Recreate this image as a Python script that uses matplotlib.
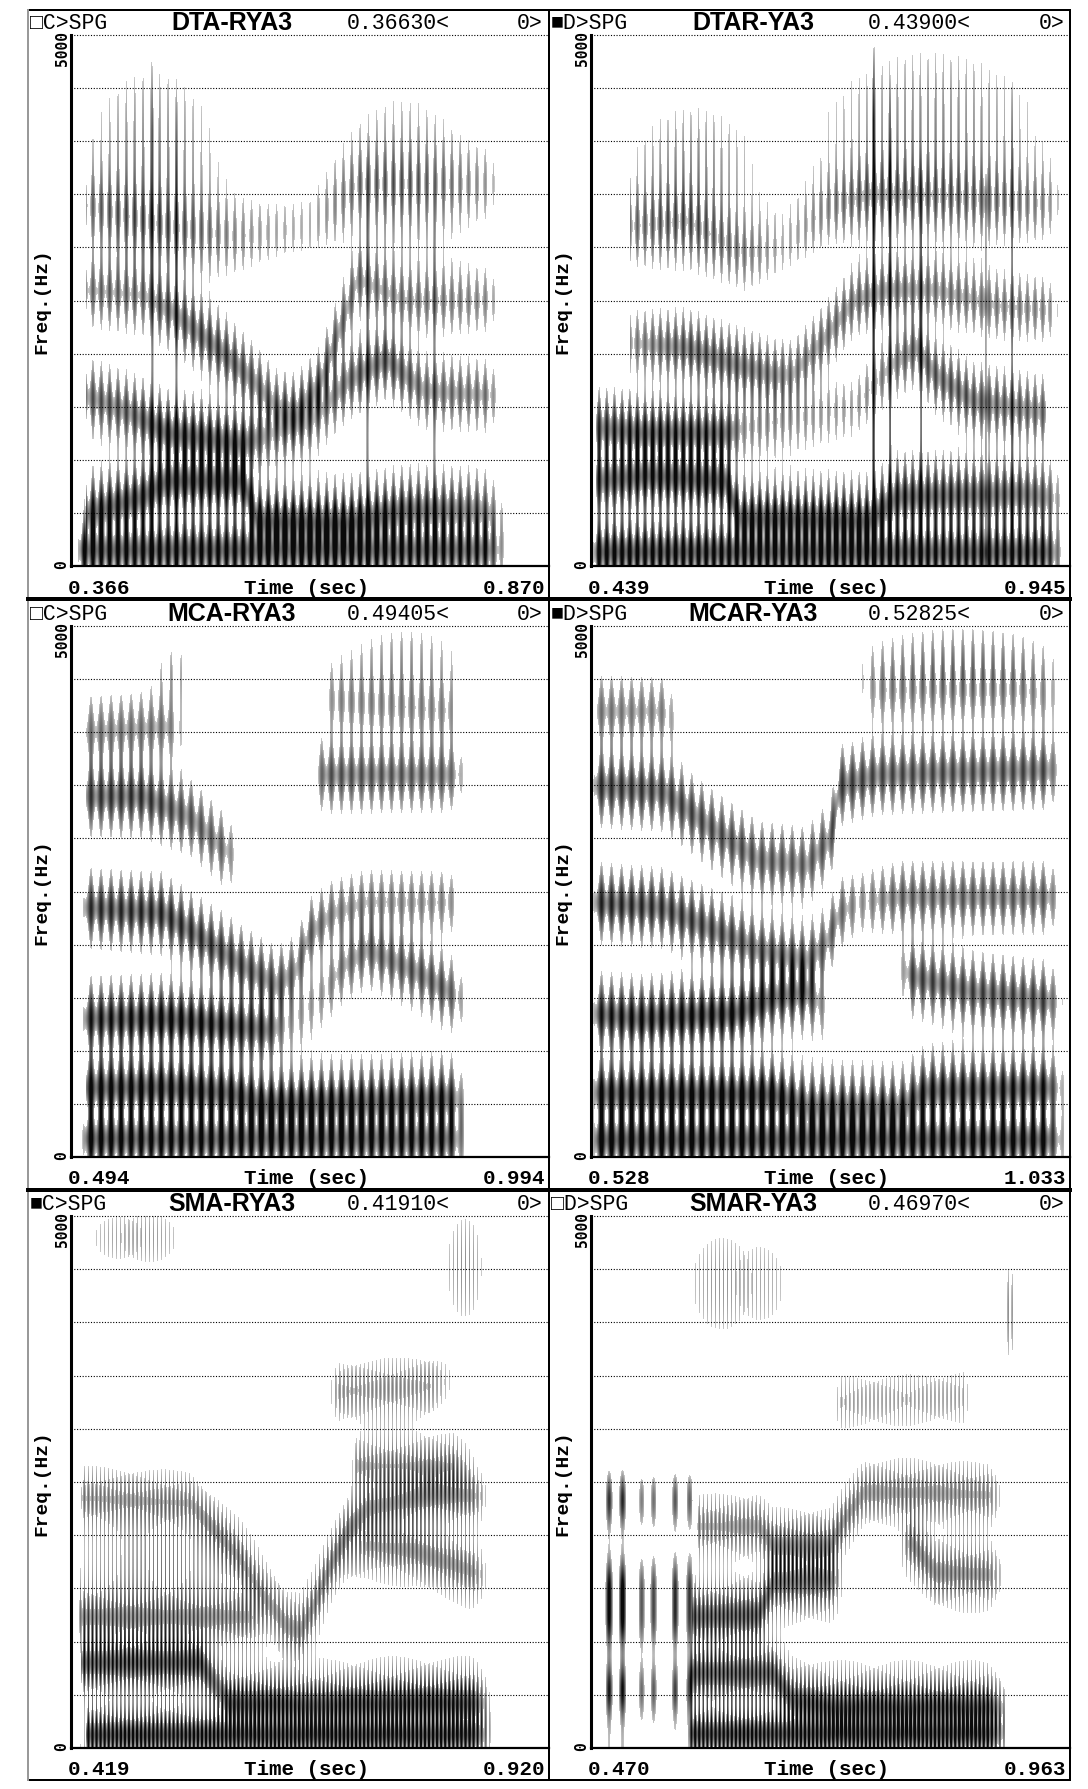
import numpy as np
import matplotlib
matplotlib.use("Agg")
import matplotlib.pyplot as plt
from matplotlib.colors import ListedColormap

# Titulos y rangos de cada panel (fila por fila, izquierda -> derecha)
names = ["DTA-RYA3", "DTAR-YA3", "MCA-RYA3", "MCAR-YA3", "SMA-RYA3", "SMAR-YA3"]
channels = ["□C>SPG", "■D>SPG", "□C>SPG", "■D>SPG", "■C>SPG", "□D>SPG"]
cursor_labels = ["0.36630<", "0.43900<", "0.49405<", "0.52825<", "0.41910<", "0.46970<"]
t_starts = [0.366, 0.439, 0.494, 0.528, 0.419, 0.470]
t_ends = [0.870, 0.945, 0.994, 1.033, 0.920, 0.963]
freq_grid = [500, 1000, 1500, 2000, 2500, 3000, 3500, 4000, 4500, 5000]

# periodo glotal (fraccion del panel) y tramo sonoro
pulse_periods = [0.0175, 0.016, 0.021, 0.021, 0.0085, 0.0085]
voicing = [(0.01, 0.92), (0.0, 1.0), (0.02, 0.84), (0.0, 1.0), (0.01, 0.89), (0.2, 0.88)]

dta_bar = [(0.01, 150, 0.85), (0.6, 150, 0.85), (0.92, 150, 0.7)]
dta_f1 = [(0.03, 480, 0.85), (0.15, 650, 0.9), (0.2, 800, 1.0), (0.36, 800, 1.0), (0.39, 420, 0.95),
          (0.58, 400, 0.95), (0.7, 520, 0.8), (0.85, 520, 0.6), (0.92, 450, 0.4)]
dta_f2 = [(0.03, 1600, 0.6), (0.12, 1450, 0.65), (0.2, 1250, 0.95), (0.36, 1150, 0.9), (0.42, 1250, 0.45),
          (0.5, 1350, 0.45), (0.58, 1750, 0.65), (0.66, 1950, 0.75), (0.74, 1650, 0.55), (0.9, 1600, 0.45)]
dta_f3 = [(0.03, 2600, 0.45), (0.15, 2550, 0.45), (0.21, 2400, 0.65), (0.32, 2000, 0.75), (0.38, 1750, 0.65),
          (0.43, 1500, 0.55), (0.47, 1450, 0.55), (0.52, 1700, 0.65), (0.56, 2200, 0.6), (0.6, 2700, 0.5),
          (0.7, 2500, 0.45), (0.9, 2500, 0.35)]
dta_f4 = [(0.03, 3400, 0.35), (0.2, 3200, 0.4), (0.35, 3100, 0.3), (0.5, 3200, 0.2), (0.6, 3600, 0.35),
          (0.9, 3600, 0.25)]
dta_noise = [(0.0, 0.34, 2400, 4900, 0.42), (0.53, 0.86, 2600, 4700, 0.34)]
dta_spikes = [(0.17, 0.35, 4900), (0.22, 0.3, 4500), (0.62, 0.35, 4000), (0.76, 0.3, 3700)]

dtar_bar = [(0.0, 130, 0.9), (1.0, 130, 0.8)]
dtar_f1 = [(0.01, 800, 0.8), (0.12, 850, 0.95), (0.28, 800, 1.0), (0.31, 450, 0.9), (0.58, 420, 0.95),
           (0.64, 650, 0.85), (0.9, 680, 0.7), (1.0, 620, 0.5)]
dtar_f2 = [(0.01, 1300, 0.75), (0.1, 1250, 0.9), (0.28, 1250, 0.85), (0.32, 1300, 0.35), (0.55, 1500, 0.25),
           (0.63, 1900, 0.5), (0.68, 2050, 0.65), (0.72, 1800, 0.65), (0.8, 1550, 0.65), (0.95, 1450, 0.55)]
dtar_f3 = [(0.08, 2100, 0.4), (0.2, 2050, 0.7), (0.3, 1900, 0.7), (0.38, 1800, 0.6), (0.42, 1800, 0.5),
           (0.48, 2100, 0.55), (0.55, 2500, 0.55), (0.62, 2600, 0.6), (0.72, 2600, 0.5), (0.85, 2450, 0.45),
           (0.98, 2400, 0.4)]
dtar_f4 = [(0.08, 3200, 0.4), (0.2, 3250, 0.45), (0.32, 2950, 0.4), (0.4, 3000, 0.2), (0.5, 3400, 0.35),
           (0.58, 3500, 0.5), (0.7, 3500, 0.45), (0.85, 3450, 0.4), (0.98, 3400, 0.3)]
dtar_noise = [(0.05, 0.36, 2800, 4500, 0.38), (0.42, 1.0, 3000, 5100, 0.38)]
dtar_spikes = [(0.59, 0.7, 5000), (0.625, 0.5, 4600), (0.69, 0.45, 4000), (0.825, 0.35, 4200), (0.88, 0.3, 4600)]

mca_bar = [(0.02, 170, 0.85), (0.84, 170, 0.75)]
mca_f1 = [(0.03, 650, 0.9), (0.2, 650, 0.95), (0.33, 600, 0.9), (0.4, 500, 0.9), (0.65, 520, 0.85),
          (0.8, 550, 0.85), (0.84, 500, 0.6)]
mca_f2 = [(0.02, 1300, 0.85), (0.2, 1300, 1.0), (0.3, 1250, 0.95), (0.41, 1200, 0.8), (0.45, 1250, 0.3),
          (0.52, 1500, 0.3), (0.57, 1800, 0.5), (0.62, 1950, 0.6), (0.72, 1750, 0.65), (0.82, 1480, 0.65)]
mca_f3 = [(0.02, 2350, 0.8), (0.19, 2300, 0.85), (0.26, 2100, 0.8), (0.36, 1800, 0.75), (0.43, 1620, 0.65),
          (0.47, 1750, 0.55), (0.5, 2100, 0.6), (0.55, 2300, 0.5), (0.62, 2400, 0.45), (0.82, 2400, 0.4)]
mca_f4 = [(0.03, 3400, 0.75), (0.15, 3400, 0.8), (0.25, 3200, 0.65), (0.32, 2900, 0.55), (0.36, 2800, 0.0),
          (0.5, 3600, 0.0), (0.53, 3600, 0.65), (0.82, 3600, 0.6)]
mca_f5 = [(0.03, 4000, 0.5), (0.2, 4050, 0.5), (0.25, 4000, 0.0), (0.52, 4300, 0.0), (0.55, 4300, 0.4),
          (0.8, 4200, 0.4)]
mca_noise = [(0.55, 0.85, 4300, 5100, 0.3), (0.17, 0.26, 4200, 4900, 0.3)]

mcar_bar = [(0.0, 160, 0.9), (1.0, 160, 0.85)]
mcar_f1 = [(0.0, 600, 0.9), (0.38, 580, 1.0), (0.45, 480, 0.75), (0.65, 460, 0.7), (0.7, 620, 0.85),
           (1.0, 650, 0.85)]
mcar_f2 = [(0.0, 1350, 0.85), (0.1, 1300, 0.95), (0.3, 1350, 1.0), (0.38, 1500, 0.85), (0.45, 1550, 0.8),
           (0.48, 1450, 0.4), (0.5, 1400, 0.0), (0.64, 1800, 0.0), (0.67, 1700, 0.7), (0.8, 1550, 0.7),
           (1.0, 1450, 0.7)]
mcar_f3 = [(0.0, 2400, 0.85), (0.15, 2350, 0.8), (0.25, 2150, 0.75), (0.35, 1950, 0.7), (0.45, 1850, 0.65),
           (0.49, 2000, 0.6), (0.52, 2300, 0.55), (0.56, 2400, 0.35), (0.65, 2450, 0.6), (1.0, 2450, 0.6)]
mcar_f4 = [(0.0, 3500, 0.8), (0.15, 3450, 0.75), (0.25, 3100, 0.7), (0.35, 2800, 0.65), (0.45, 2750, 0.6),
           (0.5, 3000, 0.65), (0.52, 3500, 0.75), (0.6, 3600, 0.7), (1.0, 3650, 0.7)]
mcar_f5 = [(0.0, 4200, 0.5), (0.15, 4200, 0.45), (0.2, 4000, 0.0), (0.55, 4400, 0.0), (0.6, 4400, 0.4),
           (0.9, 4400, 0.4), (1.0, 4300, 0.3)]
mcar_noise = [(0.55, 1.0, 4300, 5100, 0.32)]

sma_bar = [(0.03, 120, 0.9), (0.88, 120, 0.9)]
sma_f1 = [(0.02, 800, 0.85), (0.27, 800, 0.9), (0.31, 550, 0.6), (0.33, 420, 0.95), (0.5, 400, 0.85),
          (0.7, 420, 0.95), (0.85, 420, 0.95), (0.89, 420, 0.6)]
sma_f2 = [(0.01, 1230, 0.6), (0.37, 1230, 0.5), (0.42, 1200, 0.0), (0.55, 1700, 0.0), (0.62, 1900, 0.45),
          (0.72, 1850, 0.55), (0.88, 1600, 0.5)]
sma_f3 = [(0.02, 2350, 0.45), (0.25, 2300, 0.45), (0.3, 2050, 0.5), (0.35, 1800, 0.5), (0.4, 1450, 0.45),
          (0.45, 1150, 0.5), (0.48, 1100, 0.55), (0.51, 1350, 0.55), (0.54, 1680, 0.6), (0.58, 2050, 0.6),
          (0.62, 2250, 0.55), (0.75, 2370, 0.6), (0.89, 2370, 0.5)]
sma_f4 = [(0.58, 2650, 0.0), (0.6, 2650, 0.45), (0.8, 2650, 0.45), (0.85, 2650, 0.0)]
sma_f5 = [(0.53, 3350, 0.0), (0.56, 3350, 0.4), (0.75, 3400, 0.4), (0.83, 3500, 0.0)]
sma_noise = [(0.02, 0.25, 4450, 5150, 0.38), (0.77, 0.88, 3900, 5150, 0.36), (0.0, 0.37, 1300, 2200, 0.36)]

smar_bar = [(0.2, 130, 0.9), (0.87, 130, 0.9)]
smar_f1 = [(0.2, 700, 0.8), (0.38, 700, 0.8), (0.42, 450, 0.8), (0.5, 380, 0.9), (0.87, 380, 0.9)]
smar_f2 = [(0.21, 1230, 0.8), (0.35, 1250, 0.85), (0.38, 1550, 0.75), (0.5, 1570, 0.7), (0.53, 1600, 0.0),
           (0.64, 1900, 0.0), (0.67, 1920, 0.6), (0.72, 1650, 0.55), (0.87, 1620, 0.5)]
smar_f3 = [(0.22, 2080, 0.45), (0.35, 2080, 0.5), (0.38, 1900, 0.65), (0.5, 1900, 0.65), (0.53, 2150, 0.55),
           (0.57, 2400, 0.5), (0.7, 2400, 0.5), (0.86, 2370, 0.45)]
smar_f4 = [(0.5, 3200, 0.0), (0.52, 3250, 0.3), (0.78, 3300, 0.3), (0.8, 3300, 0.0)]
smar_noise = [(0.16, 0.44, 3750, 5000, 0.36), (0.86, 0.89, 3500, 4700, 0.5)]
smar_bursts = [(0.037, 0.7), (0.065, 0.75), (0.105, 0.4), (0.13, 0.45), (0.175, 0.55), (0.205, 0.5)]
smar_burst_freqs = [540, 1200, 1520, 2330]

panel_tracks = [
    [(dta_bar, 140), (dta_f1, 150), (dta_f2, 150), (dta_f3, 150), (dta_f4, 170)],
    [(dtar_bar, 140), (dtar_f1, 150), (dtar_f2, 150), (dtar_f3, 150), (dtar_f4, 170)],
    [(mca_bar, 140), (mca_f1, 150), (mca_f2, 150), (mca_f3, 150), (mca_f4, 160), (mca_f5, 170)],
    [(mcar_bar, 140), (mcar_f1, 150), (mcar_f2, 150), (mcar_f3, 150), (mcar_f4, 160), (mcar_f5, 170)],
    [(sma_bar, 120), (sma_f1, 140), (sma_f2, 150), (sma_f3, 150), (sma_f4, 150), (sma_f5, 160)],
    [(smar_bar, 120), (smar_f1, 140), (smar_f2, 150), (smar_f3, 150), (smar_f4, 160)],
]
panel_noise = [dta_noise, dtar_noise, mca_noise, mcar_noise, sma_noise, smar_noise]
panel_spikes = [dta_spikes, dtar_spikes, [], [], [], []]
panel_bursts = [[], [], [], [], [], smar_bursts]


def bump(x, a, b):
    # perfil gaussiano que cubre el intervalo [a, b]
    return np.exp(-0.5 * ((x - (a + b) / 2) / ((b - a) / 3.2)) ** 2)


def render(tracks, on, off, period, noise, spikes, bursts, nt, nf):
    t = np.linspace(0, 1, nt)
    f = np.linspace(0, 5000, nf)[:, None]
    p = 0.5 + 0.5 * np.cos(2 * np.pi * (t - on) / period)
    widen = 0.6 + 0.8 * p
    s = np.zeros((nf, nt))
    for knots, bw in tracks:
        kx = [k[0] for k in knots]
        kf = [k[1] for k in knots]
        ka = [k[2] for k in knots]
        fc = np.interp(t, kx, kf)
        amp = np.interp(t, kx, ka, left=0.0, right=0.0)
        s += amp * np.exp(-0.5 * ((f - fc) / (bw * widen)) ** 2)
    # fondo: energia que decae con la frecuencia + aspiracion debil
    s += 0.22 * np.exp(-f / 700.0) + 0.1 * p ** 3 * np.exp(-f / 5000.0)
    gate = np.clip((t - on) / 0.012, 0, 1) * np.clip((off - t) / 0.05, 0, 1)
    s = s * gate * (0.5 + 0.5 * p)
    for t0, t1, f0, f1, a in noise:
        s += a * bump(t, t0, t1) * bump(f, f0, f1) * p ** 2
    for ts, a, fmax in spikes:
        s += a * np.exp(-0.5 * ((t - ts) / 0.0018) ** 2) * np.clip((fmax - f) / 800, 0, 1)
    for ts, a in bursts:
        prof = sum(np.exp(-0.5 * ((f - fb) / 160) ** 2) for fb in smar_burst_freqs)
        prof = prof + 0.35 * np.clip((3000 - f) / 1500, 0, 1)
        s += a * np.exp(-0.5 * ((t - ts) / 0.0045) ** 2) * prof
    return np.clip(s, 0, 1)


# escala de grises con umbral (fondo blanco)
lv = np.linspace(0, 1, 256)
g = np.where(lv < 0.22, 1.0, 0.8 - 0.76 * np.clip((lv - 0.22) / 0.78, 0, 1) ** 0.8)
cmap = ListedColormap(np.stack([g, g, g, np.ones_like(g)], axis=1))

W, H = 1088, 1790
col_x = [(71, 549), (591, 1070)]
col_border = [28, 549]
row_y = [(36, 567), (627, 1158), (1217, 1749)]

fig = plt.figure(figsize=(W / 100, H / 100), dpi=100)
fig.patch.set_facecolor("white")

mono = ["Liberation Mono", "DejaVu Sans Mono"]
ov = fig.add_axes([0, 0, 1, 1], zorder=10)
ov.set_xlim(0, W)
ov.set_ylim(H, 0)
ov.axis("off")
ov.patch.set_alpha(0)

for i in range(6):
    r, c = divmod(i, 2)
    x0, x1 = col_x[c]
    y0, y1 = row_y[r]
    ax = fig.add_axes([x0 / W, 1 - y1 / H, (x1 - x0) / W, (y1 - y0) / H])
    on, off = voicing[i]
    img = render(panel_tracks[i], on, off, pulse_periods[i], panel_noise[i],
                 panel_spikes[i], panel_bursts[i], x1 - x0, y1 - y0)
    ax.imshow(img, origin="lower", aspect="auto", cmap=cmap, vmin=0, vmax=1,
              extent=[t_starts[i], t_ends[i], 0, 5000], interpolation="nearest")
    for fq in freq_grid:
        ax.axhline(fq, color="black", lw=0.8, ls=(0, (1, 1.5)), clip_on=False, zorder=3)
    ax.set_xlim(t_starts[i], t_ends[i])
    ax.set_ylim(0, 5000)
    ax.set_xticks([])
    ax.set_yticks([])
    ax.spines["top"].set_visible(False)
    ax.spines["right"].set_visible(False)
    ax.spines["left"].set_linewidth(2.2)
    ax.spines["bottom"].set_linewidth(1.6)

    b = col_border[c]
    yh = y0 - 13
    ov.text(b + 2, yh, channels[i], family=mono, fontsize=15.5, ha="left", va="center")
    ov.text(b + 204, yh, names[i], family="Liberation Sans", weight="bold", fontsize=18,
            ha="center", va="center")
    ov.text(b + 319, yh, cursor_labels[i], family=mono, fontsize=15.5, ha="left", va="center")
    ov.text(x1 - 6, yh, "0>", family=mono, fontsize=15.5, ha="right", va="center")

    yt = y1 + 21
    ov.text(x0 - 3, yt, f"{t_starts[i]:.3f}", family=mono, weight="bold", fontsize=15,
            ha="left", va="center")
    ov.text(x0 + 236, yt, "Time (sec)", family=mono, weight="bold", fontsize=15,
            ha="center", va="center")
    ov.text(x1 - 4, yt, f"{t_ends[i]:.3f}", family=mono, weight="bold", fontsize=15,
            ha="right", va="center")

    ov.text(x0 - 9, y0 - 5, "5000", family="DejaVu Sans Mono", weight="bold", fontsize=10.5,
            rotation=90, ha="center", va="top")
    ov.text(x0 - 9, y1 - 2, "0", family="DejaVu Sans Mono", weight="bold", fontsize=10.5,
            rotation=90, ha="center", va="center")
    ov.text(b + 14, (y0 + y1) / 2, "Freq.(Hz)", family=mono, weight="bold", fontsize=14,
            rotation=90, ha="center", va="center")

# marcos
px = 0.72
ov.plot([28, 1070], [11, 11], color="black", lw=2 * px)
ov.plot([28, 1070], [1781, 1781], color="black", lw=2 * px)
ov.plot([28, 28], [11, 1781], color="0.6", lw=2 * px)
ov.plot([549, 549], [11, 1781], color="black", lw=2 * px)
ov.plot([1070, 1070], [11, 1781], color="black", lw=2 * px)
for ys in [600, 1191]:
    ov.plot([28, 1070], [ys, ys], color="black", lw=4 * px)

fig.savefig("out.png", dpi=100, facecolor="white")
